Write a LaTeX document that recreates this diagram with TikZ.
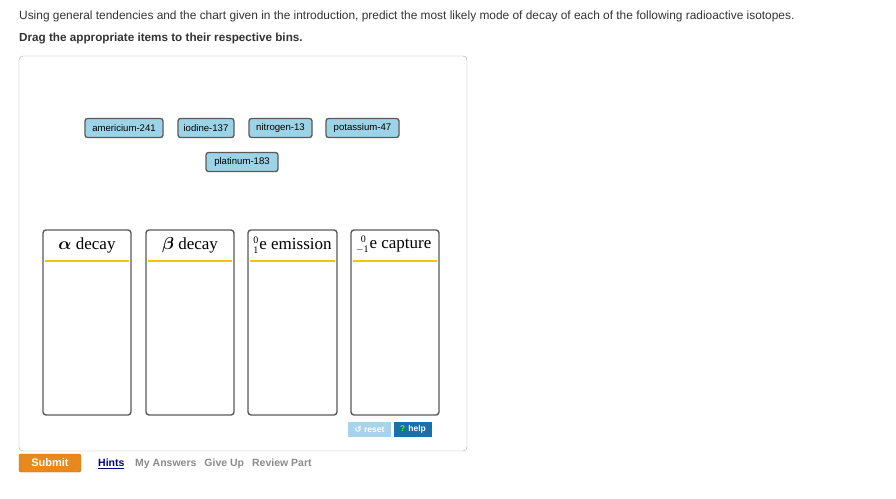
\documentclass[tikz,border=0pt]{standalone}
\usepackage{amsmath}
\usepackage{fontspec}
\setmainfont{Liberation Sans}
\newfontfamily\serifb{Liberation Serif}
\newfontfamily\dejav{DejaVu Sans}
\definecolor{chip}{HTML}{9DD3E6}
\definecolor{subm}{HTML}{E8891D}
\definecolor{helpc}{HTML}{1A6FA8}
\definecolor{resetc}{HTML}{A9D3EA}
\definecolor{gtxt}{HTML}{8A8A8A}
\definecolor{hdr}{HTML}{F5C400}
\newcommand{\prescr}[3]{{\fontsize{10}{10}\selectfont\makebox[#3][r]{\rlap{\raisebox{6pt}{\makebox[#3][r]{#1}}}\raisebox{-4pt}{#2}}}\kern1pt}
\begin{document}
\begin{tikzpicture}[x=1pt,y=-1pt,
  chipbox/.style={draw=black!65,line width=1.3pt,fill=chip,rounded corners=2.5pt,inner sep=0pt,font=\fontsize{9.6}{10}\selectfont,minimum height=19pt},
  binbox/.style={draw=black!65,line width=1.4pt,rounded corners=3pt,fill=white},
  hd/.style={font=\serifb\fontsize{17}{18}\selectfont,anchor=center,inner sep=0pt}]
\useasboundingbox (0,0) rectangle (896,498);
\node[anchor=west,font=\fontsize{11.9}{13}\selectfont,text=black!80,inner sep=0pt] (l1) at (19,16) {Using general tendencies and the chart given in the introduction, predict the most likely mode of decay of each of the following radioactive isotopes.};
\node[anchor=west,font=\bfseries\fontsize{11.7}{13}\selectfont,text=black!80,inner sep=0pt] (l2) at (19,38) {Drag the appropriate items to their respective bins.};
\draw[black!35,rounded corners=4pt] (19,56) rectangle (467,451);
\node[chipbox,minimum width=78pt] (c1) at (124,128) {americium-241};
\node[chipbox,minimum width=56pt] (c2) at (206,128) {iodine-137};
\node[chipbox,minimum width=63pt] (c3) at (280.5,128) {nitrogen-13};
\node[chipbox,minimum width=73pt] (c4) at (362.5,128) {potassium-47};
\node[chipbox,minimum width=72pt] (c5) at (242,162) {platinum-183};
\foreach \a/\b/\t [count=\i] in {43/131/{$\boldsymbol{\alpha}$ decay},146/234/{$\boldsymbol{\beta}$ decay},248/337/{\prescr{0}{1}{5pt}e emission},351/439/{\prescr{0}{$-$1}{10pt}e capture}}{
  \draw[binbox] (\a,230) rectangle (\b,415);
  \draw[draw=hdr,line width=1.2pt] (\a+2,261) -- (\b-2,261);
  \node[hd] (h\i) at ({(\a+\b)/2},245) {\t};
}
\node[fill=resetc,text=white,font=\bfseries\fontsize{8.5}{9}\selectfont,minimum width=43pt,minimum height=15pt,inner sep=0pt] (rs) at (369.5,429.5) {{\dejav ↺} reset};
\node[fill=helpc,text=white,font=\bfseries\fontsize{8.5}{9}\selectfont,minimum width=38pt,minimum height=15pt,inner sep=0pt] (hp) at (413,429.5) {\textcolor{green!80!white}{?} help};
\node[fill=subm,draw=subm!80!black,rounded corners=1.5pt,text=white,font=\bfseries\fontsize{11}{12}\selectfont,minimum width=62pt,minimum height=18pt,inner sep=0pt] (sb) at (50,463) {Submit};
\node[anchor=west,font=\bfseries\fontsize{10.5}{12}\selectfont,text=blue!50!black,inner sep=0pt] (hn) at (98,464) {\underline{Hints}};
\node[anchor=west,font=\bfseries\fontsize{10.5}{12}\selectfont,text=gtxt,inner sep=0pt] (ma) at (135,464) {My Answers\hspace{8pt}Give Up\hspace{8pt}Review Part};
\end{tikzpicture}
\end{document}
